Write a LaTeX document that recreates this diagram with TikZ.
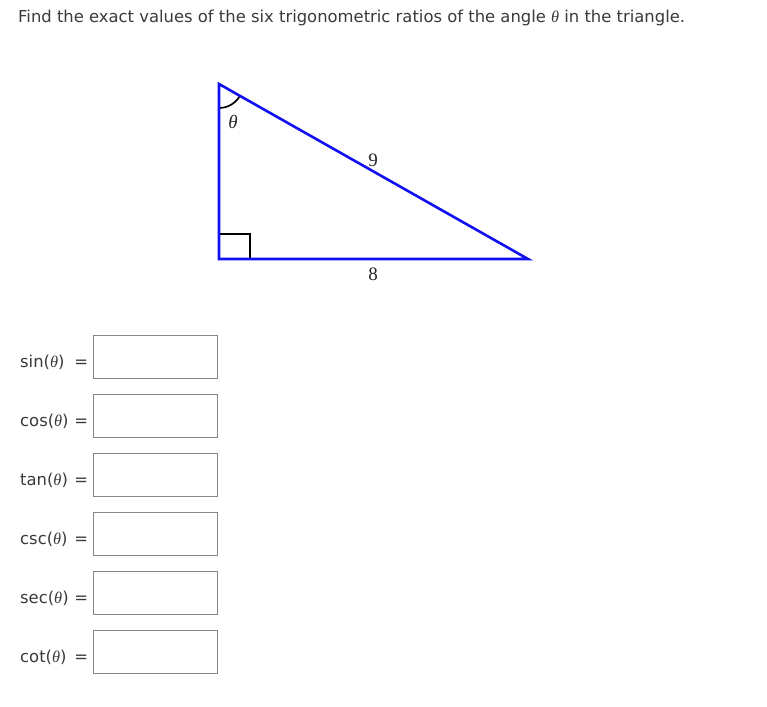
\documentclass[tikz,border=0pt]{standalone}
\usepackage{fontspec}
\usetikzlibrary{calc}
\setmainfont{DejaVu Sans}
\newfontfamily\serifnum{Liberation Serif}
\newcommand{\thet}{{\serifnum\itshape θ}}
\definecolor{txt}{HTML}{3A3A3A}
\definecolor{boxgray}{HTML}{858585}
\definecolor{triblue}{HTML}{1010F0}
\begin{document}
\begin{tikzpicture}[x=1pt,y=-1pt,
  title/.style={anchor=base west,inner sep=0pt,text=txt,font=\fontsize{16.4}{18}\selectfont},
  fn/.style={anchor=base west,inner sep=0pt,text=txt,text width=68pt,font=\fontsize{16.4}{18}\selectfont},
  ansbox/.style={draw=boxgray,line width=1pt,minimum width=124pt,minimum height=43pt,inner sep=0pt},
  tri/.style={draw=triblue,line width=2.6pt,line join=miter},
  angmark/.style={draw=black,line width=1.7pt},
  side/.style={inner sep=0pt,text=black!85,font=\serifnum\fontsize{19}{19}\selectfont}]
\path[use as bounding box] (0,0) rectangle (767,706);
\node[title] (q) at (18,23) {Find the exact values of the six trigonometric ratios of the angle \thet{} in the triangle.};
% triangle
\coordinate (A) at (219,84);
\coordinate (C) at (219,259);
\coordinate (B) at (528,259);
\draw[angmark] ($(C)+(0,-25)$) -| ($(C)+(31,0)$);
\draw[angmark] (A) ++(0,24) arc[start angle=-90,end angle=-29.5,radius=24pt];
\draw[tri] (A) -- (C) -- (B) -- cycle;
\node[side,font=\serifnum\fontsize{19}{19}\selectfont] (th) at (233,122) {\thet};
\node[side] (nine) at (373,160) {9};
\node[side] (eight) at (373,274) {8};
% answer rows
\foreach \name/\lab [count=\i from 0] in {sin/sin,cos/cos,tan/tan,csc/csc,sec/sec,cot/cot}{
  \node[fn] (l\name) at (20,{367+59*\i}) {\lab(\thet)\hfill=};
  \node[ansbox] (b\name) at (155,{356.5+59*\i}) {};
}
\end{tikzpicture}
\end{document}
